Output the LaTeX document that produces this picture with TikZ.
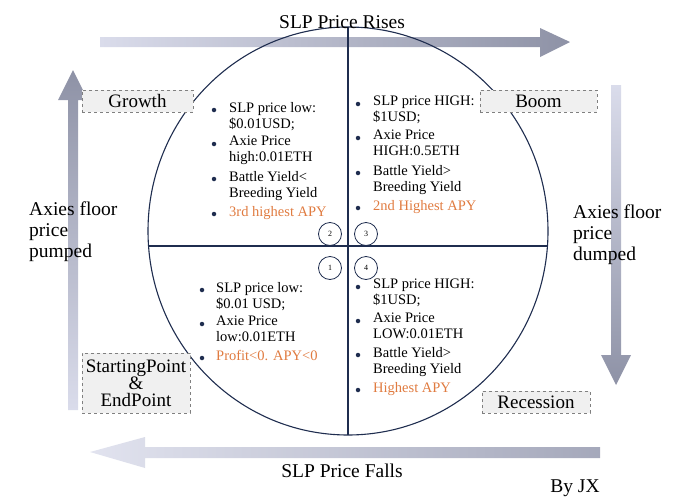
\documentclass[tikz,border=0pt]{standalone}
\usepackage{fontspec}
\setmainfont{Liberation Serif}
\begin{document}
\begin{tikzpicture}[x=1pt,y=-1pt,
 navy/.style={draw=navyc,line width=1.1pt},
 lbl/.style={font=\fontsize{19.5}{21}\selectfont,align=left,inner sep=0},
 itm/.style={font=\fontsize{14.5}{16}\selectfont,align=left,anchor=north west,inner sep=0},
 dot/.style={circle,fill=navyc,inner sep=0,minimum size=4.5pt},
 box/.style={draw=gray,dashed,fill=gray!12,inner sep=0,font=\fontsize{19}{20}\selectfont},
 num/.style={circle,draw=navyc,line width=0.8pt,minimum size=23pt,inner sep=0,font=\fontsize{8}{8}\selectfont}]
\definecolor{navyc}{HTML}{1F2D4F}
\definecolor{orng}{HTML}{E07B40}
\definecolor{lt}{HTML}{DADCEB}
\definecolor{dk}{HTML}{8E92A6}
\useasboundingbox (0,0) rectangle (691,498);
% arrows
\shade[left color=lt,right color=dk] (100,37) -- (540,37) -- (540,28) -- (570,42) -- (540,57) -- (540,47) -- (100,47) -- cycle;
\shade[top color=lt,bottom color=dk] (611,85) -- (621,85) -- (621,355) -- (631,355) -- (616,385) -- (601,355) -- (611,355) -- cycle;
\shade[left color=lt!80!white,right color=dk!70!lt] (600,447) -- (145,447) -- (145,437) -- (90,452) -- (145,468) -- (145,458) -- (600,458) -- cycle;
\shade[top color=dk,bottom color=lt] (68,410) -- (78,410) -- (78,100) -- (88,100) -- (73,70) -- (58,100) -- (68,100) -- cycle;
% circle
\draw[navy] (348,231) ellipse (200 and 204);
\draw[navy] (348,27) -- (348,435);
\draw[navy] (149,246) -- (548,246);
\node[num] (n2) at (330,234) {2};
\node[num] (n3) at (366,234) {3};
\node[num] (n1) at (330,268) {1};
\node[num] (n4) at (366,268) {4};
% boxes
\node[box,minimum width=111pt,minimum height=22pt] (gr) at (137.5,101) {Growth};
\node[box,minimum width=117pt,minimum height=22pt] (bm) at (538.5,101) {Boom};
\node[box,minimum width=108pt,minimum height=60pt,align=center] (sp) at (136,383) {StartingPoint\\[-3pt]\&\\[-3pt]EndPoint};
\node[box,minimum width=108pt,minimum height=22pt] (rc) at (536,402) {Recession};
% labels
\node[lbl] (t1) at (342,22) {SLP Price Rises};
\node[lbl] (t2) at (342,471) {SLP Price Falls};
\node[lbl] (t3) at (575,488) {By JX};
\node[lbl,anchor=west] (t4) at (29,232) {Axies floor\\price\\pumped};
\node[lbl,anchor=west] (t5) at (573,235) {Axies floor\\price\\dumped};
% Q2
\foreach \y/\t [count=\i] in {102/{SLP price low:\\\$0.01USD;},136/{Axie Price\\high:0.01ETH},171/{Battle Yield<\\Breeding Yield}}
 {\node[dot] (qa\i) at (214,\y+8) {}; \node[itm] (qat\i) at (229,\y) {\t};}
\node[dot] (qa4) at (214,214) {}; \node[itm,text=orng] (qat4) at (229,206) {3rd highest APY};
% Q3
\foreach \y/\t [count=\i] in {96/{SLP price HIGH:\\\$1USD;},130/{Axie Price\\HIGH:0.5ETH},165/{Battle Yield>\\Breeding Yield}}
 {\node[dot] (qb\i) at (358,\y+8) {}; \node[itm] (qbt\i) at (373,\y) {\t};}
\node[dot] (qb4) at (358,208) {}; \node[itm,text=orng] (qbt4) at (373,200) {2nd Highest APY};
% Q1
\foreach \y/\t [count=\i] in {282/{SLP price low:\\\$0.01 USD;},316/{Axie Price\\low:0.01ETH}}
 {\node[dot] (qc\i) at (202,\y+8) {}; \node[itm] (qct\i) at (216,\y) {\t};}
\node[dot] (qc3) at (202,358) {}; \node[itm,text=orng] (qct3) at (216,350) {Profit<0. APY<0};
% Q4
\foreach \y/\t [count=\i] in {279/{SLP price HIGH:\\\$1USD;},313/{Axie Price\\LOW:0.01ETH},347/{Battle Yield>\\Breeding Yield}}
 {\node[dot] (qd\i) at (358,\y+8) {}; \node[itm] (qdt\i) at (373,\y) {\t};}
\node[dot] (qd4) at (358,390) {}; \node[itm,text=orng] (qdt4) at (373,382) {Highest APY};
\end{tikzpicture}
\end{document}
